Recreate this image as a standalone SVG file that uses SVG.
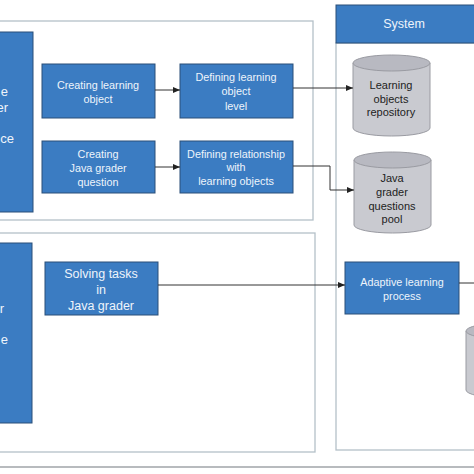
<svg xmlns="http://www.w3.org/2000/svg" width="474" height="474" viewBox="0 0 474 474">
<defs>
<style>
.lane{fill:none;stroke:#b4c0c8;stroke-width:1.3}
.box{fill:#3b7cc2;stroke:#2a4f78;stroke-width:1}
.t{font-family:"Liberation Sans",Arial,sans-serif;font-size:10.8px;fill:#eef4fb;text-anchor:middle}
.tb{font-family:"Liberation Sans",Arial,sans-serif;font-size:12.5px;fill:#eef4fb;text-anchor:middle}
.te{font-family:"Liberation Sans",Arial,sans-serif;font-size:13px;fill:#eef4fb;text-anchor:end}
.ct{font-family:"Liberation Sans",Arial,sans-serif;font-size:11px;fill:#222;text-anchor:middle}
.cyl{fill:#c9cad0;stroke:#9a9ba2;stroke-width:1}
.cyltop{fill:#b8b9c1;stroke:#9a9ba2;stroke-width:1}
.c{fill:none;stroke:#333;stroke-width:1}
</style>
<marker id="ah" markerWidth="8" markerHeight="6" refX="7" refY="3" orient="auto" markerUnits="userSpaceOnUse">
<path d="M0,0 L7,3 L0,6 z" fill="#222"/>
</marker>
</defs>
<rect width="474" height="474" fill="#ffffff"/>
<g id="lanes">
<rect class="lane" x="-5" y="21" width="318" height="199"/>
<rect class="lane" x="-5" y="233" width="320" height="219"/>
<rect class="lane" x="336" y="43" width="150" height="407"/>
<line x1="0" y1="467" x2="474" y2="467" stroke="#a0a4a8" stroke-width="1.5"/>
</g>
<g id="role1">
<rect class="box" x="-5" y="32" width="38" height="180"/>
<text class="te" x="8" y="96">e</text>
<text class="te" x="8" y="112">er</text>
<text class="te" x="14" y="143">ce</text>
</g>
<g id="role2">
<rect class="box" x="-5" y="243" width="37" height="180"/>
<text class="te" x="4" y="313">r</text>
<text class="te" x="8" y="344">e</text>
</g>
<g id="system-header">
<rect class="box" x="336" y="5" width="145" height="38"/>
<text class="tb" x="404" y="28">System</text>
</g>
<g id="n1">
<rect class="box" x="42" y="64" width="113" height="54"/>
<text class="t" x="98" y="89">Creating learning</text>
<text class="t" x="98" y="103">object</text>
</g>
<g id="n2">
<rect class="box" x="42" y="141" width="113" height="52"/>
<text class="t" x="98" y="158">Creating</text>
<text class="t" x="98" y="172">Java grader</text>
<text class="t" x="98" y="186">question</text>
</g>
<g id="n3">
<rect class="box" x="180" y="64" width="113" height="54"/>
<text class="t" x="236" y="81">Defining learning</text>
<text class="t" x="236" y="95">object</text>
<text class="t" x="236" y="110">level</text>
</g>
<g id="n4">
<rect class="box" x="180" y="141" width="113" height="52"/>
<text class="t" x="236" y="158">Defining relationship</text>
<text class="t" x="236" y="171">with</text>
<text class="t" x="236" y="185">learning objects</text>
</g>
<g id="n5">
<rect class="box" x="45" y="262" width="113" height="53"/>
<text class="tb" x="101" y="278">Solving tasks</text>
<text class="tb" x="101" y="294">in</text>
<text class="tb" x="101" y="310">Java grader</text>
</g>
<g id="n6">
<rect class="box" x="345" y="262" width="114" height="52"/>
<text class="t" x="402" y="286">Adaptive learning</text>
<text class="t" x="402" y="300">process</text>
</g>
<g id="db1">
<path class="cyl" d="M353,63 L353,128 A38.5,8 0 0 0 430,128 L430,63"/>
<ellipse class="cyltop" cx="391.5" cy="63" rx="38.5" ry="8"/>
<text class="ct" x="391" y="89">Learning</text>
<text class="ct" x="391" y="103">objects</text>
<text class="ct" x="391" y="116">repository</text>
</g>
<g id="db2">
<path class="cyl" d="M354,160 L354,225 A38.5,8 0 0 0 431,225 L431,160"/>
<ellipse class="cyltop" cx="392.5" cy="160" rx="38.5" ry="8"/>
<text class="ct" x="392" y="182">Java</text>
<text class="ct" x="392" y="196">grader</text>
<text class="ct" x="392" y="210">questions</text>
<text class="ct" x="392" y="223">pool</text>
</g>
<g id="db3">
<path class="cyl" d="M466,331 L466,390 A38.5,8 0 0 0 543,390 L543,331"/>
<ellipse class="cyltop" cx="504.5" cy="331" rx="38.5" ry="8"/>
</g>
<g id="connectors">
<line class="c" x1="155" y1="90" x2="180" y2="90" marker-end="url(#ah)"/>
<line class="c" x1="155" y1="167" x2="180" y2="167" marker-end="url(#ah)"/>
<line class="c" x1="293" y1="88" x2="353" y2="88" marker-end="url(#ah)"/>
<polyline class="c" points="293,166 330,166 330,190 354,190" marker-end="url(#ah)"/>
<line class="c" x1="158" y1="285" x2="345" y2="285" marker-end="url(#ah)"/>
<line class="c" x1="459" y1="283" x2="474" y2="283"/>
</g>
</svg>
